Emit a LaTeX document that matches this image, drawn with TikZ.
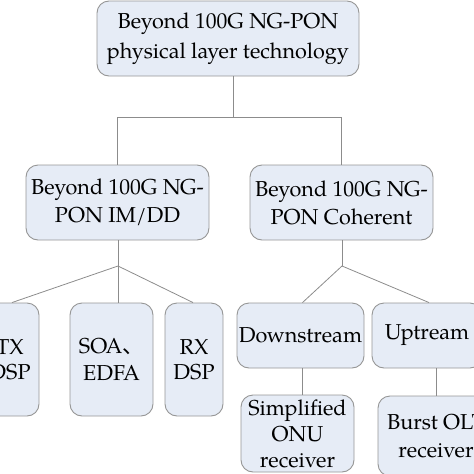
\documentclass[tikz,border=0pt]{standalone}
\usepackage{fontspec}
\setmainfont{TeX Gyre Pagella}
\newfontfamily\cjk{Noto Sans CJK SC}
\definecolor{boxfill}{RGB}{230,236,246}
\definecolor{boxline}{RGB}{150,150,150}
\definecolor{conn}{RGB}{140,140,140}
\tikzset{
  box/.style={draw=boxline, fill=boxfill, rounded corners=12pt, line width=0.9pt,
    align=center, inner sep=0pt, font=\fontsize{21.6}{28}\selectfont},
  link/.style={draw=conn, line width=0.8pt}
}
\begin{document}
\begin{tikzpicture}[x=1pt,y=-1pt]
\useasboundingbox (0,0) rectangle (474,474);
\node[box, minimum width=262pt, minimum height=75pt, font=\fontsize{21.6}{30}\selectfont] (top) at (228,38.5) {Beyond 100G NG-PON\\physical layer technology};
\node[box, minimum width=183pt, minimum height=75pt] (imdd) at (117.5,202.5) {Beyond 100G NG-\\PON IM/DD};
\node[box, minimum width=183pt, minimum height=75pt] (coh) at (341.5,202.5) {Beyond 100G NG-\\PON Coherent};
\node[box, minimum width=58pt, minimum height=113pt, font=\fontsize{21.6}{25}\selectfont] (tx) at (10,359.5) {TX\\DSP};
\node[box, minimum width=83pt, minimum height=113pt, font=\fontsize{21.6}{27}\selectfont] (soa) at (111.5,359.5) {SOA{\cjk 、}\\EDFA};
\node[box, minimum width=58pt, minimum height=113pt, font=\fontsize{21.6}{25}\selectfont] (rx) at (194,359.5) {RX\\DSP};
\node[box, minimum width=127pt, minimum height=65pt] (down) at (300.5,335.5) {Downstream};
\node[box, minimum width=110pt, minimum height=65pt] (up) at (427,335.5) {Uptream};
\node[box, minimum width=113pt, minimum height=77pt, font=\fontsize{21.6}{26}\selectfont] (simp) at (297.5,433.5) {Simplified\\ONU\\receiver};
\node[box, minimum width=116pt, minimum height=80pt, font=\fontsize{21.6}{28}\selectfont] (burst) at (436,436) {Burst OLT\\receiver};
\coordinate (j1) at (233,117);
\coordinate (jl) at (118,266);
\coordinate (jr) at (342,266);
\path[link] (top.south -| j1) -- (j1);
\path[link] (j1) -| (imdd.north);
\path[link] (j1) -| (coh.north);
\path[link] (imdd.south -| jl) -- (jl);
\path[link] (jl) -- ([xshift=2pt]tx.north);
\path[link] (jl) -- (jl |- soa.north);
\path[link] (jl) -- ([xshift=-1pt]rx.north);
\path[link] (coh.south -| jr) -- (jr);
\path[link] (jr) -- ([xshift=2pt]down.north);
\path[link] (jr) -- ([xshift=2pt]up.north);
\path[link] ([xshift=1.5pt]down.south) -- ([xshift=1.5pt]down.south |- simp.north);
\path[link] (up.south -| burst.north) -- (burst.north);
\end{tikzpicture}
\end{document}
